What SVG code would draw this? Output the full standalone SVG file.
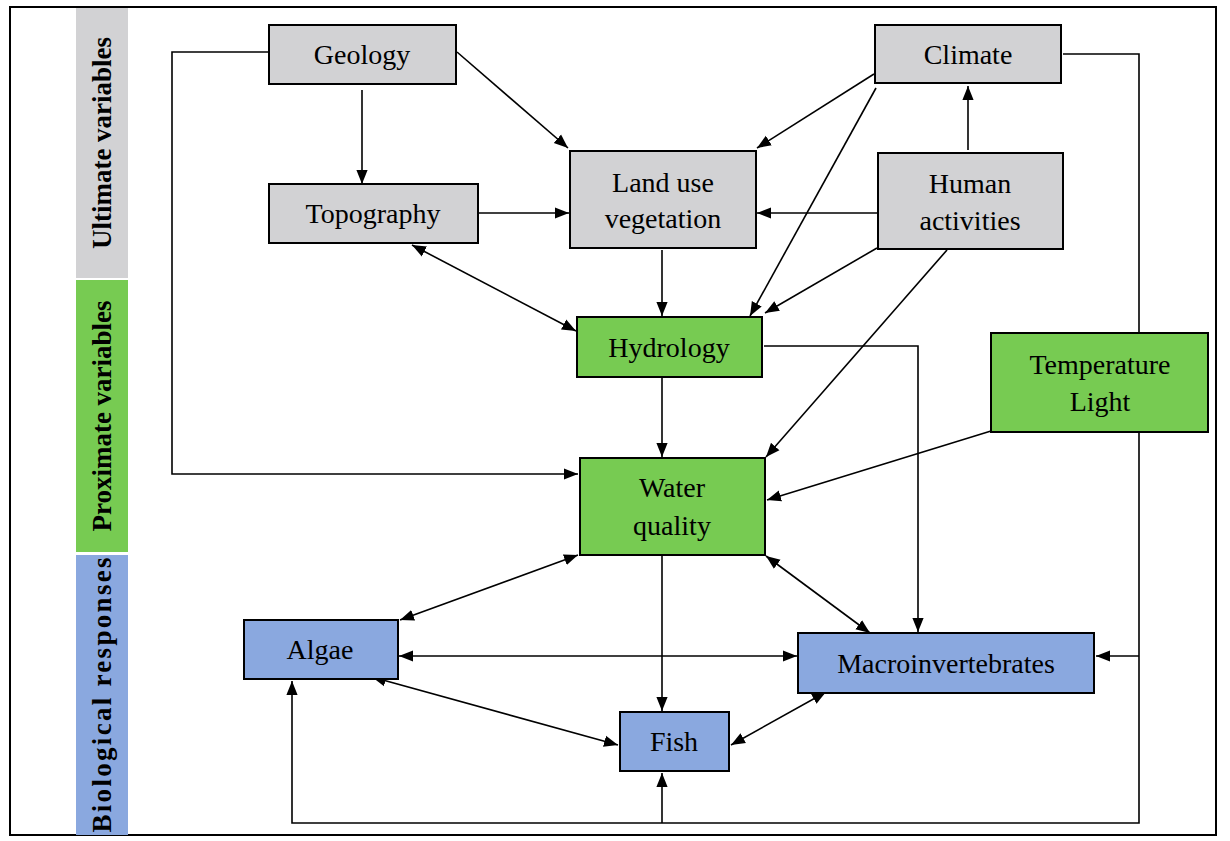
<svg xmlns="http://www.w3.org/2000/svg" width="1230" height="841" viewBox="0 0 1230 841">
<defs>
<marker id="a" viewBox="0 0 10 10" refX="10" refY="5" markerWidth="7" markerHeight="7" markerUnits="userSpaceOnUse" orient="auto-start-reverse"><path d="M0,0 L10,5 L0,10 z" fill="#000"/></marker>
<marker id="b" viewBox="0 0 10 10" refX="10" refY="5" markerWidth="14" markerHeight="14" markerUnits="userSpaceOnUse" orient="auto-start-reverse"><path d="M0,1 L10,5 L0,9 z" fill="#000"/></marker>
<style>
.g{fill:#d2d2d4;stroke:#000;stroke-width:2}
.gr{fill:#77cb52;stroke:#000;stroke-width:2}
.bl{fill:#8aa8df;stroke:#000;stroke-width:2}
.t{font-family:"Liberation Serif",serif;font-size:28px;text-anchor:middle;fill:#000}
.band{font-family:"Liberation Serif",serif;font-size:27px;font-weight:bold;text-anchor:middle;fill:#000}
#c path{fill:none;stroke:#000;stroke-width:1.6}
</style>
</defs>
<rect x="10" y="7" width="1206" height="828" fill="#fff" stroke="#000" stroke-width="2"/>
<g id="bands">
<rect x="76" y="8" width="52" height="270" fill="#d2d2d4"/>
<rect x="76" y="280" width="52" height="272" fill="#77cb52"/>
<rect x="76" y="555" width="52" height="280" fill="#8aa8df"/>
<text class="band" transform="translate(111,143) rotate(-90)">Ultimate variables</text>
<text class="band" transform="translate(111,416) rotate(-90)">Proximate variables</text>
<text class="band" transform="translate(111,695) rotate(-90)" textLength="275" lengthAdjust="spacing">Biological responses</text>
</g>
<g id="c">
<path d="M268,52 H172 V474 H578" marker-end="url(#b)"/>
<path d="M362,90 V184" marker-end="url(#b)"/>
<path d="M457,52 L568,148" marker-end="url(#b)"/>
<path d="M478,213 H569" marker-end="url(#b)"/>
<path d="M412,245 L576,331" marker-start="url(#b)" marker-end="url(#b)"/>
<path d="M874,74 L757,148" marker-end="url(#b)"/>
<path d="M876,88 L750,316" marker-end="url(#b)"/>
<path d="M968,150 V86" marker-end="url(#b)"/>
<path d="M877,213 H757" marker-end="url(#b)"/>
<path d="M877,248 L765,313" marker-end="url(#b)"/>
<path d="M947,250 L766,457" marker-end="url(#b)"/>
<path d="M662,250 V316" marker-end="url(#b)"/>
<path d="M662,377 V457" marker-end="url(#b)"/>
<path d="M764,346 H918 V632" marker-end="url(#b)"/>
<path d="M1063,54 H1139 V333"/>
<path d="M1139,432 V823 H292 V681" marker-end="url(#b)"/>
<path d="M1139,656 H1096" marker-end="url(#b)"/>
<path d="M662,823 V773" marker-end="url(#b)"/>
<path d="M991,431 L767,500" marker-end="url(#b)"/>
<path d="M578,555 L400,620" marker-start="url(#b)" marker-end="url(#b)"/>
<path d="M662,555 V711" marker-end="url(#b)"/>
<path d="M766,556 L870,633" marker-start="url(#b)" marker-end="url(#b)"/>
<path d="M399,656 H797" stroke="#444" marker-start="url(#b)" marker-end="url(#b)"/>
<path d="M372,677 L618,745" marker-start="url(#b)" marker-end="url(#b)"/>
<path d="M731,745 L826,692" marker-start="url(#b)" marker-end="url(#b)"/>
</g>
<g id="geology"><rect class="g" x="269" y="25" width="187" height="59"/><text class="t" x="362" y="64">Geology</text></g>
<g id="topography"><rect class="g" x="269" y="184" width="209" height="59"/><text class="t" x="373" y="223">Topography</text></g>
<g id="landuse"><rect class="g" x="570" y="151" width="186" height="97"/><text class="t" x="663" y="192">Land use</text><text class="t" x="663" y="228">vegetation</text></g>
<g id="climate"><rect class="g" x="875" y="25" width="186" height="58"/><text class="t" x="968" y="64">Climate</text></g>
<g id="human"><rect class="g" x="878" y="153" width="185" height="96"/><text class="t" x="970" y="193">Human</text><text class="t" x="970" y="230">activities</text></g>
<g id="hydrology"><rect class="gr" x="577" y="317" width="185" height="60"/><text class="t" x="669" y="357">Hydrology</text></g>
<g id="templight"><rect class="gr" x="991" y="333" width="217" height="99"/><text class="t" x="1100" y="374">Temperature</text><text class="t" x="1100" y="411">Light</text></g>
<g id="waterquality"><rect class="gr" x="580" y="458" width="185" height="97"/><text class="t" x="672" y="497">Water</text><text class="t" x="672" y="535">quality</text></g>
<g id="algae"><rect class="bl" x="244" y="620" width="154" height="59"/><text class="t" x="320" y="659">Algae</text></g>
<g id="macro"><rect class="bl" x="798" y="633" width="296" height="60"/><text class="t" x="946" y="673">Macroinvertebrates</text></g>
<g id="fish"><rect class="bl" x="620" y="712" width="109" height="59"/><text class="t" x="674" y="751">Fish</text></g>
</svg>
